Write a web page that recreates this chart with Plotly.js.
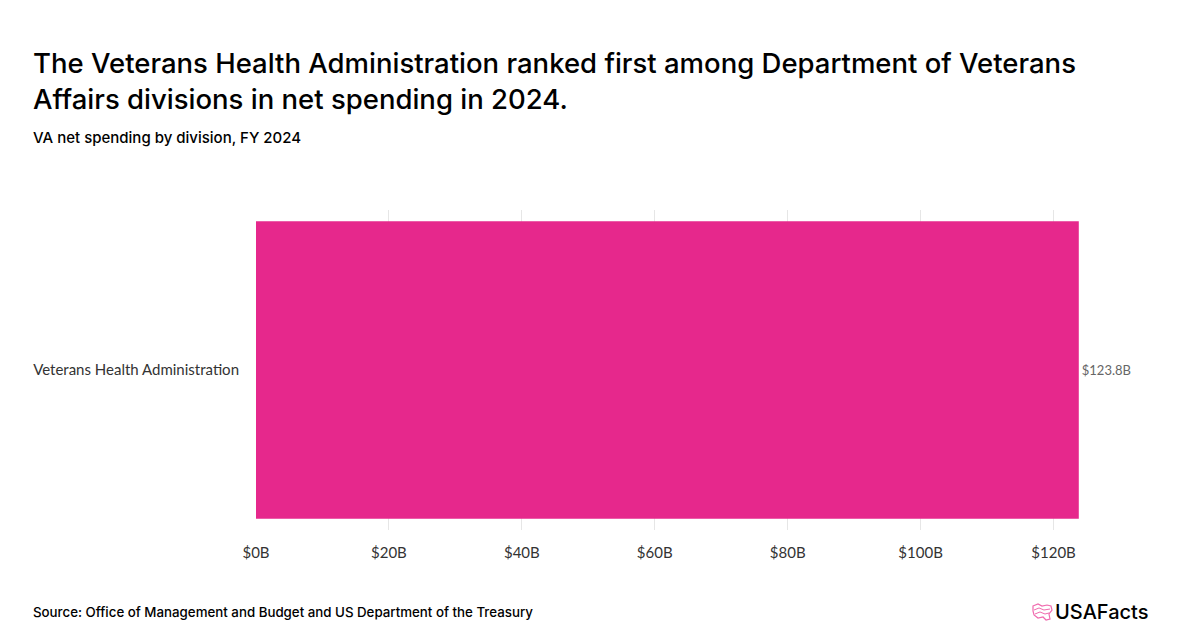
<!DOCTYPE html>
<html>
<head>
<meta charset="utf-8">
<script src="https://cdn.plot.ly/plotly-3.0.1.min.js"></script>
<style>html,body{margin:0;padding:0;background:#fff;}#chart{width:1200px;height:628px;}</style>
</head>
<body>
<div id="chart"></div>
<script>
const categories = ["Veterans Health Administration"];
const values = [123.8];
const valueLabels = ["$123.8B"];
const tickVals = [0, 20, 40, 60, 80, 100, 120];
const tickText = ["$0B", "$20B", "$40B", "$60B", "$80B", "$100B", "$120B"];

// plot area in pixels
const PL = 256, PR = 1120, PT = 210, PB = 530;
const PW = PR - PL, PH = PB - PT;
function px(x, y) { return ((x - PL) / PW).toFixed(4) + " " + ((PB - y) / PH).toFixed(4); }
function pathPx(pts, close) {
  return pts.map((p, i) => (i ? "L " : "M ") + px(p[0], p[1])).join(" ") + (close ? " Z" : "");
}

const trace = {
  type: "bar",
  orientation: "h",
  x: values,
  y: categories,
  text: valueLabels,
  textposition: "outside",
  cliponaxis: false,
  textfont: {family: "Lato, sans-serif", size: 13, color: "#666"},
  marker: {color: "#e6288c"},
  hoverinfo: "none"
};

const iconColor = "#f06aae";
const outline = [[1033,606],[1038,604],[1042,606],[1047,605],[1051,606],[1052,610],[1049,614],[1050,619],[1046,620],[1043,617],[1038,618],[1034,615],[1033,611]];
const stripe1 = [[1034,610],[1039,608],[1044,610],[1050,609]];
const stripe2 = [[1035,614],[1040,612],[1045,614],[1049,613]];

const layout = {
  width: 1200, height: 628,
  paper_bgcolor: "#fff", plot_bgcolor: "#fff",
  margin: {l: PL, r: 1200 - PR, t: PT, b: 628 - PB},
  bargap: 0.07,
  showlegend: false,
  xaxis: {
    range: [0, 130],
    tickvals: tickVals, ticktext: tickText,
    showgrid: true, gridcolor: "#e6e6e6", gridwidth: 1,
    zeroline: false, showline: false,
    ticks: "", ticklabelstandoff: 12,
    tickfont: {family: "Lato, sans-serif", size: 15, color: "#333"},
    fixedrange: true
  },
  yaxis: {
    showgrid: false, zeroline: false, showline: false,
    ticks: "", ticklabelstandoff: 16,
    tickfont: {family: "Lato, sans-serif", size: 15, color: "#333"},
    fixedrange: true
  },
  annotations: [
    {xref: "paper", yref: "paper", xanchor: "left", yanchor: "top", showarrow: false, align: "left",
     x: (31 - PL) / PW, y: 1 + (PT - 44) / PH,
     text: "The Veterans Health Administration ranked first among Department of Veterans<br>Affairs divisions in net spending in 2024.",
     font: {family: "Inter, sans-serif", size: 27.5, color: "#000", weight: 500}},
    {xref: "paper", yref: "paper", xanchor: "left", yanchor: "top", showarrow: false, align: "left",
     x: (31 - PL) / PW, y: 1 + (PT - 126) / PH,
     text: "VA net spending by division, FY 2024",
     font: {family: "Inter, sans-serif", size: 15, color: "#000", weight: 500}},
    {xref: "paper", yref: "paper", xanchor: "left", yanchor: "middle", showarrow: false, align: "left",
     x: (31 - PL) / PW, y: -(612 - PB) / PH,
     text: "Source: Office of Management and Budget and US Department of the Treasury",
     font: {family: "Inter, sans-serif", size: 13.3, color: "#000", weight: 500}},
    {xref: "paper", yref: "paper", xanchor: "right", yanchor: "middle", showarrow: false, align: "right",
     x: (1150 - PL) / PW, y: -(612 - PB) / PH,
     text: "USAFacts",
     font: {family: "Inter, sans-serif", size: 20, color: "#000", weight: 500}}
  ],
  shapes: [
    {type: "path", xref: "paper", yref: "paper", layer: "above",
     path: pathPx(outline, true), line: {color: iconColor, width: 1.2}, fillcolor: "rgba(0,0,0,0)"},
    {type: "path", xref: "paper", yref: "paper", layer: "above",
     path: pathPx(stripe1, false), line: {color: iconColor, width: 1}},
    {type: "path", xref: "paper", yref: "paper", layer: "above",
     path: pathPx(stripe2, false), line: {color: iconColor, width: 1}}
  ]
};

Plotly.newPlot("chart", [trace], layout, {displayModeBar: false, staticPlot: true});
</script>
</body>
</html>
